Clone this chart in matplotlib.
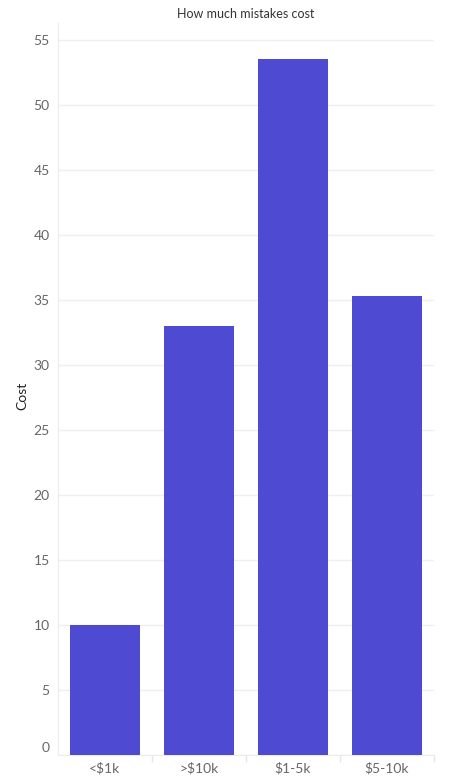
import matplotlib
matplotlib.use("Agg")
import matplotlib.pyplot as plt
import matplotlib.transforms as mtransforms
import numpy as np

categories = ["<$1k", ">$10k", "$1-5k", "$5-10k"]
costs = [10.0, 33.0, 53.5, 35.3]
yticks = [0, 5, 10, 15, 20, 25, 30, 35, 40, 45, 50, 55]

plt.rcParams['font.family'] = ['Lato', 'DejaVu Sans']

fig = plt.figure(figsize=(4.63, 7.80), dpi=100)
ax = fig.add_axes([58/463, 25/780, 376/463, 732/780])

x = np.arange(len(categories))
ax.bar(x, costs, width=0.755, color="#4f4ad2", zorder=3)

ax.set_xlim(-0.5, len(categories) - 0.5)
ax.set_ylim(0, 56.3)
ax.set_yticks(yticks)
ax.set_yticklabels([str(v) for v in yticks])
ax.set_xticks(x)
ax.set_xticklabels(categories)
ax.set_xticks(np.arange(len(categories)) + 0.5, minor=True)

ax.grid(axis='y', color="#efefef", linewidth=1, zorder=0)
for s in ["top", "right"]:
    ax.spines[s].set_visible(False)
ax.spines["left"].set_color("#ececec")
ax.spines["bottom"].set_color("#ececec")

ax.tick_params(axis='y', length=0, labelsize=10, labelcolor="#666666", pad=6)
ax.tick_params(axis='x', which='major', length=0, labelsize=10, labelcolor="#666666", pad=5)
ax.tick_params(axis='x', which='minor', length=5, color="#e6e6e6", width=1)

# raise the zero label slightly, as in reference
lbls = ax.get_yticklabels()
off = mtransforms.ScaledTranslation(0, 8/100, fig.dpi_scale_trans)
lbls[0].set_transform(lbls[0].get_transform() + off)

ax.set_ylabel("Cost", fontsize=10, color="#222222", labelpad=0)
ax.yaxis.set_label_coords(-0.08, 0.49)
fig.text(246/463, 1 - 14/780, "How much mistakes cost", ha='center', va='center',
         fontsize=9, color="#333333")

fig.savefig("out.png", dpi=100, facecolor="white")
